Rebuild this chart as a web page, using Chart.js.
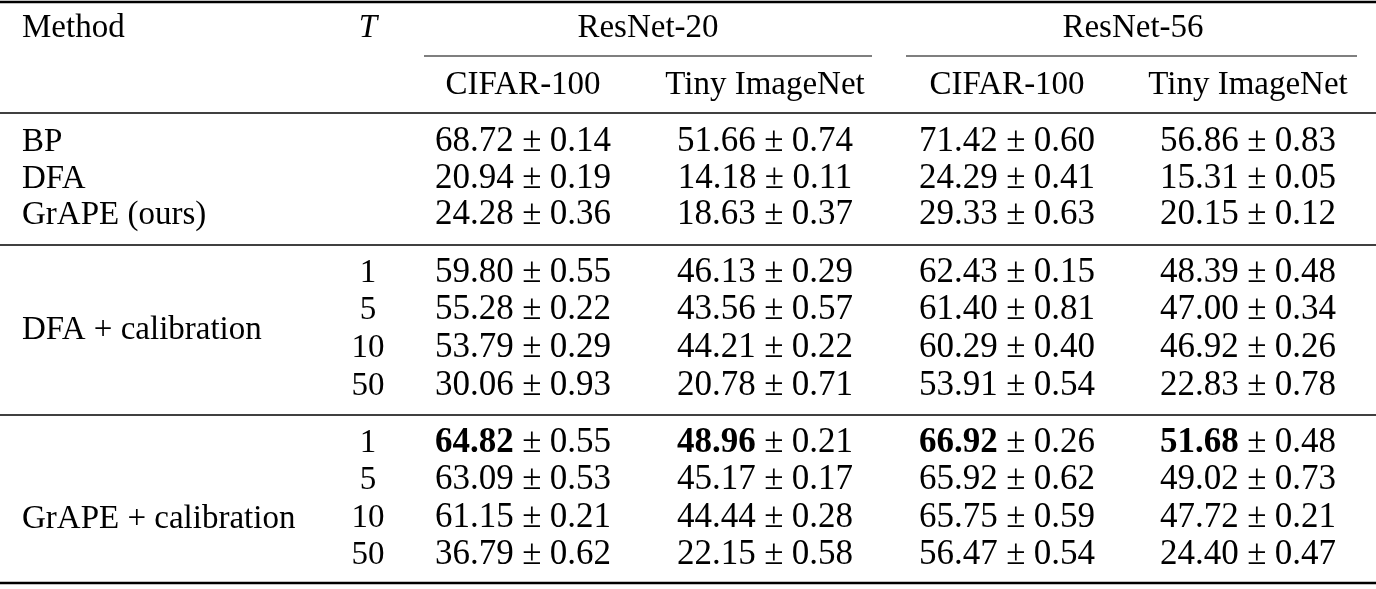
<!DOCTYPE html>
<html><head><meta charset="utf-8">
<script src="https://cdn.jsdelivr.net/npm/chart.js@4"></script>
<style>html,body{margin:0;padding:0;background:#fff}#wrap{width:1376px;height:589px}</style>
</head><body><div id="wrap"><canvas id="c"></canvas></div>
<script>
const methods = ["BP","DFA","GrAPE (ours)"];
const groups = ["DFA + calibration","GrAPE + calibration"];
const Tvalues = ["1","5","10","50"];
const networks = ["ResNet-20","ResNet-56"];
const datasets = ["CIFAR-100","Tiny ImageNet","CIFAR-100","Tiny ImageNet"];
const baseMeans = [[68.72,51.66,71.42,56.86],[20.94,14.18,24.29,15.31],[24.28,18.63,29.33,20.15]];
const baseStds  = [[0.14,0.74,0.60,0.83],[0.19,0.11,0.41,0.05],[0.36,0.37,0.63,0.12]];
const dfaMeans = [[59.80,46.13,62.43,48.39],[55.28,43.56,61.40,47.00],[53.79,44.21,60.29,46.92],[30.06,20.78,53.91,22.83]];
const dfaStds  = [[0.55,0.29,0.15,0.48],[0.22,0.57,0.81,0.34],[0.29,0.22,0.40,0.26],[0.93,0.71,0.54,0.78]];
const grapeMeans = [[64.82,48.96,66.92,51.68],[63.09,45.17,65.92,49.02],[61.15,44.44,65.75,47.72],[36.79,22.15,56.47,24.40]];
const grapeStds  = [[0.55,0.21,0.26,0.48],[0.53,0.17,0.62,0.73],[0.21,0.28,0.59,0.21],[0.62,0.58,0.54,0.47]];
const boldRow = 0;

const F = '"Liberation Serif", "DejaVu Serif", serif';
const SZ = 33, NSZ = 35;
const colX = [523,765,1007,1248];

const tablePlugin = {
  id:'table',
  afterDraw(chart){
    const c = chart.ctx;
    c.save();
    c.fillStyle='#000'; c.strokeStyle='#000'; c.textBaseline='middle';
    const rule=(y,w,x0=0,x1=1376)=>{c.lineWidth=w;c.beginPath();c.moveTo(x0,y);c.lineTo(x1,y);c.stroke();};
    const txt=(s,x,y,align='left',style='',sz=SZ)=>{c.font=style+' '+sz+'px '+F;c.textAlign=align;c.fillText(s,x,y);};
    const cell=(m,s,x,y,bold)=>{
      const a=m.toFixed(2), pm='\u00b1', b=s.toFixed(2), g=NSZ*0.24;
      c.font=(bold?'bold ':'')+NSZ+'px '+F; const wa=c.measureText(a).width;
      c.font=NSZ+'px '+F; const wp=c.measureText(pm).width, wb=c.measureText(b).width;
      const x0=x-(wa+wp+wb+2*g)/2;
      txt(a,x0,y,'left',bold?'bold':'',NSZ);
      txt(pm,x0+wa+g,y,'left','',NSZ);
      txt(b,x0+wa+2*g+wp,y,'left','',NSZ);
    };
    rule(2,2.5); rule(113,1.5); rule(245,1.5); rule(415,1.5); rule(583,2.5);
    rule(56,1.2,424,872); rule(56,1.2,906,1357);
    txt("Method",22,28); txt("T",368,28,'center','italic');
    txt(networks[0],648,28,'center'); txt(networks[1],1133,28,'center');
    datasets.forEach((d,i)=>txt(d,colX[i],85,'center'));
    const by=[142,179,215];
    methods.forEach((m,r)=>{txt(m,22,by[r]);colX.forEach((x,i)=>cell(baseMeans[r][i],baseStds[r][i],x,by[r],false));});
    const dy=[273,310,348,386], gy=[443,480,518,555];
    txt(groups[0],22,330); txt(groups[1],22,519);
    Tvalues.forEach((t,r)=>{
      txt(t,368,dy[r],'center'); txt(t,368,gy[r],'center');
      colX.forEach((x,i)=>{cell(dfaMeans[r][i],dfaStds[r][i],x,dy[r],false);cell(grapeMeans[r][i],grapeStds[r][i],x,gy[r],r===boldRow);});
    });
    c.restore();
  }
};
new Chart(document.getElementById('c'),{
  type:'scatter',data:{datasets:[]},
  options:{responsive:true,maintainAspectRatio:false,animation:false,
    plugins:{legend:{display:false},tooltip:{enabled:false}},
    scales:{x:{display:false},y:{display:false}}},
  plugins:[tablePlugin]
});
</script></body></html>
